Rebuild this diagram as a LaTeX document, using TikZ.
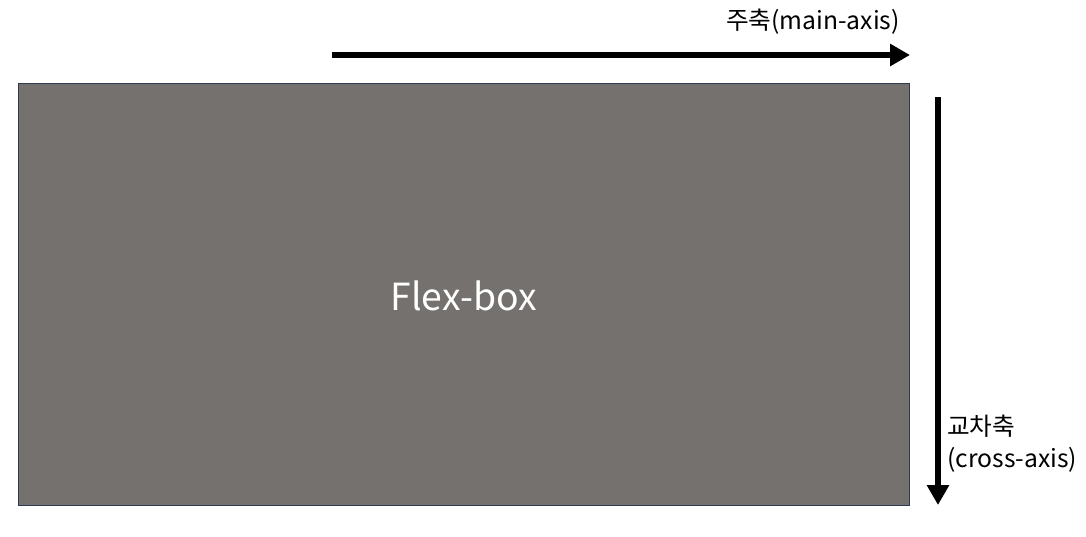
\documentclass[tikz,border=0pt]{standalone}
\usepackage{fontspec}
\setmainfont{Noto Sans CJK KR}
\usetikzlibrary{arrows.meta}
\definecolor{boxgray}{RGB}{117,113,111}
\definecolor{boxline}{RGB}{47,59,85}
\begin{document}
\begin{tikzpicture}
  [x=0.75pt,y=-0.75pt,
   axis/.style={line width=4.8pt,-{Triangle[length=15pt,width=16pt]}},
   lbl/.style={inner sep=0pt,font=\fontsize{18.5}{24}\selectfont}]
  \useasboundingbox (0,0) rectangle (1086,536);
  \node[draw=boxline,fill=boxgray,line width=0.6pt,minimum width=668.25pt,minimum height=316.5pt,inner sep=0pt] (box) at (463.5,294) {};
  \node[text=white,font=\fontsize{28}{32}\selectfont] (flex) at (463.5,296) {Flex-box};

  \coordinate (m1) at (332,55);
  \coordinate (m2) at (910,55);
  \coordinate (c1) at (938,97);
  \coordinate (c2) at (938,505);

  \foreach \from/\to in {m1/m2,c1/c2}
    \draw[axis] (\from) -- (\to);

  \node[lbl,anchor=east] (main) at (900,22) {주축(main-axis)};
  \node[lbl,anchor=west,align=left] (cross) at (947,444) {교차축\\(cross-axis)};
\end{tikzpicture}
\end{document}
